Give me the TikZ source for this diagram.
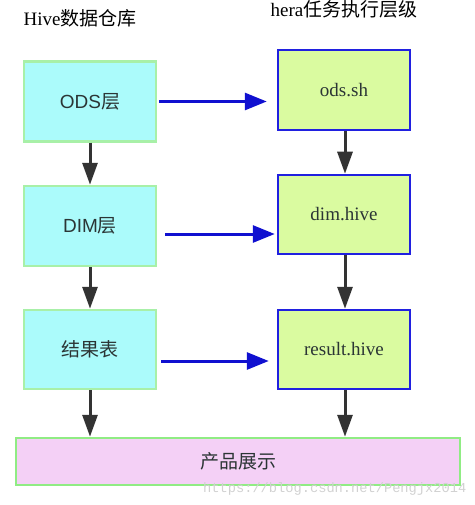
\documentclass[tikz,border=0pt]{standalone}
\usepackage{fontspec}
\setmainfont{Liberation Serif}
\newfontfamily\cjk{Noto Sans CJK SC}
\newfontfamily\hsans{Liberation Sans}
\newfontfamily\wmono{Liberation Mono}
\usetikzlibrary{arrows.meta}
\definecolor{hivefill}{HTML}{ABFBFB}
\definecolor{hiveline}{HTML}{A8F0A8}
\definecolor{herafill}{HTML}{DAFBA0}
\definecolor{heraline}{HTML}{2020E0}
\definecolor{prodfill}{HTML}{F4D0F6}
\definecolor{prodline}{HTML}{90EC84}
\definecolor{flowblue}{HTML}{1010D0}
\definecolor{flowgray}{HTML}{333333}
\definecolor{labelgray}{HTML}{2B3535}

\begin{document}
\begin{tikzpicture}[x=1pt, y=-1pt,
    font=\fontsize{19}{22}\selectfont,
    hivebox/.style={draw=hiveline, fill=hivefill, line width=2.5pt, text=labelgray,
      minimum width=132pt, minimum height=80pt, inner sep=0pt},
    herabox/.style={draw=heraline, fill=herafill, line width=2.5pt, text=labelgray,
      minimum width=132pt, minimum height=79pt, inner sep=0pt},
    prodbox/.style={draw=prodline, fill=prodfill, line width=2.5pt, text=labelgray,
      minimum width=444pt, minimum height=47pt, inner sep=0pt},
    toHera/.style={draw=flowblue, line width=3pt,
      -{Triangle[length=22pt, width=17pt]}},
    down/.style={draw=flowgray, line width=3pt,
      -{Triangle[length=22pt, width=15pt]}}]

  \useasboundingbox (0,0) rectangle (474,505);

  % column titles
  \node (hiveT) at (80,18) {Hive{\cjk 数据仓库}};
  \node (heraT) at (344,9) {hera{\cjk 任务执行层级}};

  % hive side
  \node[hivebox] (ods) at (90,101.5) {\hsans ODS{\cjk 层}};
  \node[hivebox] (dim) at (90,226) {\hsans DIM{\cjk 层}};
  \node[hivebox, minimum height=79pt] (res) at (90,349.5) {\cjk 结果表};

  % hera side
  \node[herabox, minimum height=80pt] (odssh) at (344,90) {ods.sh};
  \node[herabox] (dimhive) at (344,214.5) {dim.hive};
  \node[herabox] (reshive) at (344,349.5) {result.hive};

  \node[prodbox] (prod) at (238,461.5) {\cjk 产品展示};

  % hive -> hera
  \draw[toHera] ([xshift=2pt]ods.east) -- ([xshift=-10pt]odssh.west |- ods.east); %% ods
  \draw[toHera] ([xshift=8pt,yshift=-8pt]dim.east) -- ([xshift=-2pt,yshift=-8pt]dimhive.west |- dim.east); %% dim
  \draw[toHera] ([xshift=4pt,yshift=-11.5pt]res.east) -- ([xshift=-8pt,yshift=-11.5pt]reshive.west |- res.east); %% result

  % downwards
  \draw[down] (ods.south) -- (dim.north);
  \draw[down] (dim.south) -- (res.north);
  \draw[down] (res.south) -- (res.south |- prod.north);
  \draw[down] ([xshift=1pt]odssh.south) -- ([xshift=1pt]dimhive.north);
  \draw[down] ([xshift=1pt]dimhive.south) -- ([xshift=1pt]reshive.north);
  \draw[down] ([xshift=1pt]reshive.south) -- ([xshift=1pt]reshive.south |- prod.north);

  \node[anchor=west, inner sep=0pt, text=black!18, font=\wmono\fontsize{13.7}{15}\selectfont] (mark) at (203,489) {https://blog.csdn.net/Pengjx2014};
\end{tikzpicture}
\end{document}
